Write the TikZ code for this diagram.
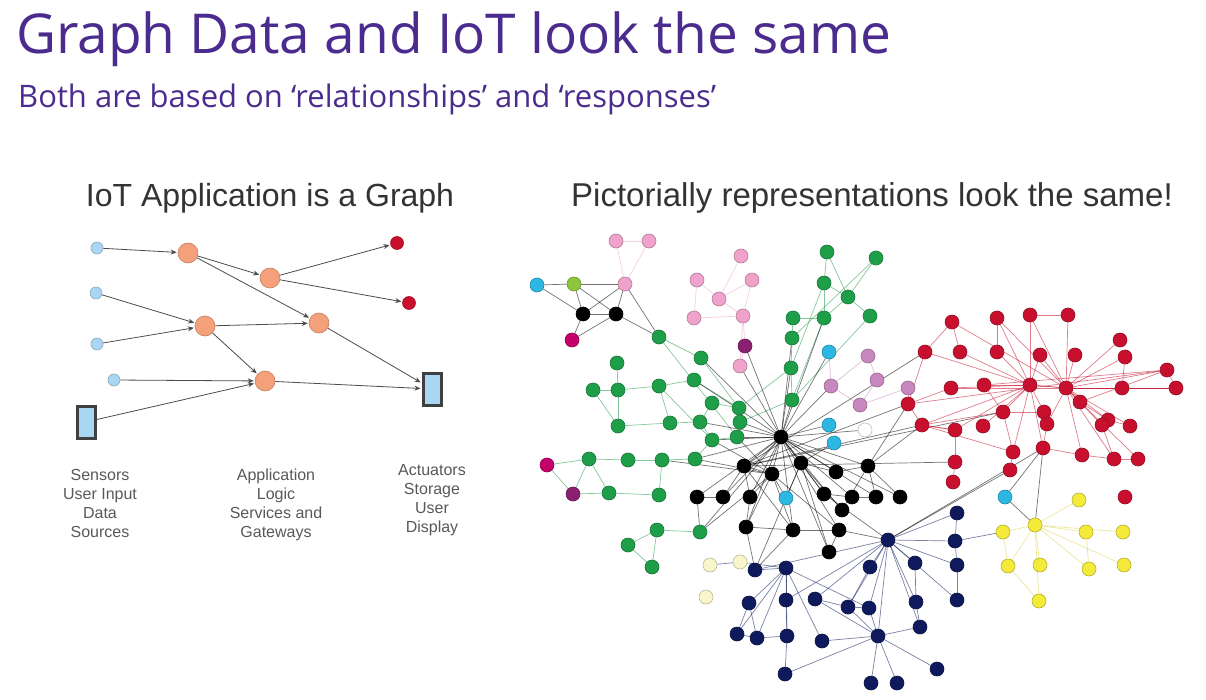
\documentclass[tikz,border=0pt]{standalone}
\usepackage{fontspec}
\setmainfont{Open Sans}
\newfontfamily\arial{Liberation Sans}
\usetikzlibrary{arrows.meta,backgrounds}
\definecolor{ttl}{HTML}{4B2C8E}
\definecolor{cpink}{HTML}{EFA3CB}
\definecolor{cmauve}{HTML}{C987BF}
\definecolor{ccyan}{HTML}{2CB8E2}
\definecolor{clime}{HTML}{8CC63F}
\definecolor{cgreen}{HTML}{1E9E48}
\definecolor{cred}{HTML}{C8102E}
\definecolor{cnavy}{HTML}{0E1A5C}
\definecolor{cyel}{HTML}{F4EA3A}
\definecolor{cpale}{HTML}{FAF6CC}
\definecolor{cmag}{HTML}{C4006A}
\definecolor{cpurp}{HTML}{8B2070}
\definecolor{sblue}{HTML}{A9D6F2}
\definecolor{sorange}{HTML}{F4A07A}
\tikzset{
 dot/.style={circle,inner sep=0pt,minimum size=14pt,draw=#1!75!black,fill=#1,line width=0.6pt},
 sdot/.style={circle,inner sep=0pt,minimum size=13pt,draw=#1!80!black,fill=#1,line width=0.6pt},
 arr/.style={draw=gray!60!black,line width=0.8pt,-{Stealth[length=6pt,width=5pt]},shorten >=1pt},
 dev/.style={draw=black!75,line width=3pt,fill=sblue,minimum width=18pt,minimum height=32pt,inner sep=0pt},
 ed/.style={draw=#1,line width=0.7pt,opacity=0.55},
 lbl/.style={font=\arial\fontsize{16}{19}\selectfont,text=gray!70!black,align=center},
 hd/.style={font=\arial\fontsize{32}{36}\selectfont,text=black!80,anchor=base}
}
\begin{document}
\begin{tikzpicture}[x=1pt,y=-1pt]
\useasboundingbox (0,0) rectangle (1206,700);
\node[anchor=base west,text=ttl,font=\fontsize{55}{60}\selectfont,inner sep=0pt] (title) at (16,54) {Graph Data and IoT look the same};
\node[anchor=base west,text=ttl,font=\fontsize{31}{36}\selectfont,inner sep=0pt] (sub) at (18,108) {Both are based on ‘relationships’ and ‘responses’};
\node[hd] (h1) at (270,207) {IoT Application is a Graph};
\node[hd,font=\arial\fontsize{33}{36}\selectfont] (h2) at (872,207) {Pictorially representations look the same!};
% left graph
\node[sdot=sblue,minimum size=12pt] (s1) at (97,248) {};
\node[sdot=sblue,minimum size=12pt] (s2) at (96,293) {};
\node[sdot=sblue,minimum size=12pt] (s3) at (97,344) {};
\node[sdot=sblue,minimum size=12pt] (s4) at (114,380) {};
\node[dev] (d1) at (86,422) {};
\node[sdot=sorange,minimum size=20pt] (o1) at (188,253) {};
\node[sdot=sorange,minimum size=20pt] (o2) at (270,278) {};
\node[sdot=sorange,minimum size=20pt] (o3) at (205,326) {};
\node[sdot=sorange,minimum size=20pt] (o4) at (319,323) {};
\node[sdot=sorange,minimum size=20pt] (o5) at (265,381) {};
\node[sdot=cred,minimum size=13pt] (r1) at (397,243) {};
\node[sdot=cred,minimum size=13pt] (r2) at (409,303) {};
\node[dev] (d2) at (432,389) {};
\foreach \a/\b in {s1/o1,o1/o2,o1/o4,s2/o3,s3/o3,o3/o4,o3/o5,s4/o5,d1/o5,o2/r1,o2/r2,o4/d2,o5/d2}
  \draw[arr] (\a) -- (\b);
\node[lbl] (l1) at (100,503) {Sensors\\User Input\\Data\\Sources};
\node[lbl] (l2) at (276,505) {Application\\Logic\\Services and\\Gateways};
\node[lbl] (l3) at (432,500) {Actuators\\Storage\\User\\Display};
% right network nodes
\foreach \x/\y [count=\i] in {827/252,876/258,824/283,848/297,824/318,870/316,793/318,792/338,659/337,701/358,617/363,593/390,618/390,659/386,694/380,791/368,712/403,739/408,792/400,618/426,670/423,700/422,740/422,712/440,737/437,589/459,628/460,662/460,695/459,609/493,659/495,657/530,700/532,628/545,652/567}
  \node[dot=cgreen] (g\i) at (\x,\y) {};
\foreach \x/\y [count=\i] in {781/437,744/466,772/474,801/463,836/472,868/466,697/497,723/497,750/497,824/494,852/497,876/497,900/497,746/527,793/530,839/530,829/552,842/510,583/314,616/314}
  \node[dot=black] (b\i) at (\x,\y) {};
\foreach \x/\y [count=\i] in {952/322,997/318,1030/315,1068/315,1120/340,925/352,960/352,997/352,1040/355,1075/355,1125/357,1167/370,1176/388,951/388,984/385,1030/385,1066/388,1122/388,908/404,1003/412,1044/412,1080/402,1108/420,922/425,955/430,983/426,1047/424,1102/425,1130/426,1013/452,1043/448,1082/455,1114/459,1138/459,955/462,1010/470,1125/497,953/482}
  \node[dot=cred] (r\i) at (\x,\y) {};
\foreach \x/\y [count=\i] in {957/513,955/541,888/540,755/570,786/568,915/563,957/565,870/567,749/603,786/600,815/599,848/607,869/608,916/602,957/600,737/634,757/638,787/636,822/641,878/636,920/627,785/674,871/683,897/683,937/669}
  \node[dot=cnavy] (n\i) at (\x,\y) {};
\foreach \x/\y [count=\i] in {1079/500,1035/525,1003/532,1086/532,1123/532,1008/566,1040/565,1089/569,1124/565,1039/601}
  \node[dot=cyel] (y\i) at (\x,\y) {};
\foreach \x/\y [count=\i] in {616/241,649/241,625/284,741/256,697/280,752/280,719/299,694/318,743/316,740/366}
  \node[dot=cpink] (p\i) at (\x,\y) {};
\foreach \x/\y [count=\i] in {868/356,877/380,831/386,860/405,908/388}
  \node[dot=cmauve] (m\i) at (\x,\y) {};
\foreach \x/\y [count=\i] in {537/285,829/352,829/425,834/443,786/498,1005/497}
  \node[dot=ccyan] (c\i) at (\x,\y) {};
\foreach \x/\y [count=\i] in {710/565,740/562,706/597}
  \node[dot=cpale] (w\i) at (\x,\y) {};
\node[dot=clime] (lm) at (574,284) {};
\node[dot=cmag] (mg1) at (572,340) {};
\node[dot=cmag] (mg2) at (547,465) {};
\node[dot=cpurp] (pu1) at (745,346) {};
\node[dot=cpurp] (pu2) at (573,494) {};
\node[dot=white] (wh) at (865,430) {};
\begin{pgfonlayer}{background}
\fill[white] (0,0) rectangle (1206,700);
\foreach \a/\b in {1/3,2/4,3/4,3/5,4/5,4/6,1/4,5/7,7/8,8/16,16/19,5/19,6/19,3/16,9/10,10/18,11/13,12/13,13/14,14/15,15/18,16/18,17/18,17/22,19/23,20/21,21/22,22/24,24/25,23/25,26/27,27/28,28/29,29/24,26/30,30/31,31/28,32/33,32/34,34/35,35/32,9/25,14/24,20/13,21/14,12/20,2/8}
  \draw[ed=cgreen] (g\a) -- (g\b);
\foreach \a in {2,...,18} \draw[ed=black] (b1) -- (b\a);
\foreach \a/\b in {2/3,3/4,4/5,2/8,2/9,3/14,4/10,5/6,6/12,6/13,3/15,3/16,4/17,8/7,9/14,10/11,11/12,14/15,15/16,16/17,18/6,4/18,2/15,3/9}
  \draw[ed=black] (b\a) -- (b\b);
\foreach \a in {8,16,19,22,23,24,25,29,33,10,15} \draw[ed=black] (b1) -- (g\a);
\foreach \a in {24,25,29,28,33} \draw[ed=black] (b3) -- (g\a);
\foreach \a in {19,24,20,6,35} \draw[ed=black] (b2) -- (r\a);
\foreach \a in {19,24} \draw[ed=black] (b6) -- (r\a);
\draw[ed=black] (b1) -- (pu1); \draw[ed=black] (b1) -- (p10); \draw[ed=black] (b1) -- (c2);
\draw[ed=black] (b1) -- (c3); \draw[ed=black] (b1) -- (m3); \draw[ed=black] (b1) -- (wh);
\draw[ed=black] (b4) -- (c4); \draw[ed=black] (b3) -- (c5); \draw[ed=black] (b4) -- (c5);
\draw[ed=black] (b4) -- (n4); \draw[ed=black] (b14) -- (n4); \draw[ed=black] (b15) -- (n4);
\draw[ed=black] (b10) -- (n3); \draw[ed=black] (b16) -- (n3); \draw[ed=black] (b7) -- (g33);
\draw[ed=black] (n3) -- (r36); \draw[ed=black] (b1) -- (g5);
\draw[ed=black] (b19) -- (b20); \draw[ed=black] (b19) -- (mg1); \draw[ed=black] (b20) -- (mg1);
\draw[ed=black] (c1) -- (lm); \draw[ed=black] (lm) -- (p3); \draw[ed=black] (c1) -- (b19);
\draw[ed=black] (lm) -- (b19); \draw[ed=black] (lm) -- (b20); \draw[ed=black] (p3) -- (b19);
\draw[ed=black] (p3) -- (b20); \draw[ed=black] (p3) -- (g9); \draw[ed=black] (b20) -- (g9);
\foreach \a/\b in {1/2,1/3,3/2} \draw[ed=cpink] (p\a) -- (p\b);
\foreach \a/\b in {4/7,5/7,6/7,5/8,8/9,6/9,7/9,9/10} \draw[ed=cpink] (p\a) -- (p\b);
\draw[ed=cpink] (p10) -- (pu1); \draw[ed=cpink] (p9) -- (pu1);
\foreach \a/\b in {1/2,2/4,3/4,4/5,1/3} \draw[ed=cmauve] (m\a) -- (m\b);
\draw[ed=cmauve] (c2) -- (m3); \draw[ed=cmauve] (m5) -- (r19);
\foreach \a in {6,7,8,14,15,16,17,20,21,24,25,26,30,31,9,2,3} \draw[ed=cred] (r16) -- (r\a);
\foreach \a in {1,2,3,4,9,10,11,12,13,18,22,23,27,28,29,32,33,34,5} \draw[ed=cred] (r17) -- (r\a);
\foreach \a/\b in {1/6,1/7,2/8,3/4,12/13,19/24,24/25,25/35,35/38,30/36,20/30,27/31,31/32,32/33,33/34,23/29,28/33,22/23,15/20,14/19,11/18,13/18,19/6,17/16,20/21,21/27,12/22}
  \draw[ed=cred] (r\a) -- (r\b);
\foreach \a/\b in {19/12,15/12,20/24,25/24,30/24,14/13} \draw[ed=cred] (r\a) -- (r\b);
\draw[ed=black] (r31) -- (y2); \draw[ed=black] (r31) -- (c6);
\draw[ed=black] (c6) -- (y2); \draw[ed=black] (r31) -- (n3);
\foreach \a in {1,3,4,5,6,7,8,9,10} \draw[ed=cyel!80!gray] (y2) -- (y\a);
\draw[ed=cyel!80!gray] (y3) -- (y6); \draw[ed=cyel!80!gray] (y6) -- (y10);\draw[ed=cyel!80!gray] (y4) -- (y8);
\draw[ed=cnavy] (y3) -- (n2);
\foreach \a in {1,2,4,6,7,8,11,12,13,14,15,10,20,21} \draw[ed=cnavy] (n3) -- (n\a);
\foreach \a in {9,10,16,17,18,13,19} \draw[ed=cnavy] (n5) -- (n\a);
\foreach \a in {11,12,13,19,22,23,24,25,21} \draw[ed=cnavy] (n20) -- (n\a);
\foreach \a/\b in {1/2,2/7,7/15,6/14,9/16,9/17,17/18,18/22,10/18,16/17,4/5,11/12,12/13,14/21,8/12}
  \draw[ed=cnavy] (n\a) -- (n\b);
\draw[ed=cnavy] (n5) -- (w2); \draw[ed=cnavy] (w1) -- (w2);
\draw[ed=cgreen] (mg2) -- (g26); \draw[ed=cgreen] (mg2) -- (pu2); \draw[ed=cgreen] (pu2) -- (g30);
\draw[ed=cgreen] (pu2) -- (g26);
\end{pgfonlayer}
\end{tikzpicture}
\end{document}
